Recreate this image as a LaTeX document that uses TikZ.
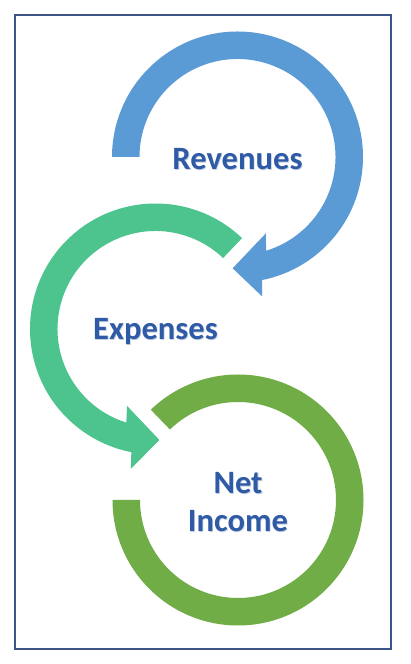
\documentclass[tikz,border=0pt]{standalone}
\usepackage{fontspec}
\setmainfont{Carlito}
\usetikzlibrary{calc}
\definecolor{frameC}{HTML}{3B5587}
\definecolor{blueC}{HTML}{5B9BD5}
\definecolor{tealC}{HTML}{4DC48E}
\definecolor{greenC}{HTML}{70AD47}
\definecolor{textC}{HTML}{2F5BA6}
\definecolor{shadowC}{HTML}{9FB3CF}
\tikzset{
  lbl/.style={font=\fontsize{32.6}{37.4}\selectfont\bfseries, text=textC, align=center, inner sep=0pt},
  lblshadow/.style={lbl, text=shadowC, opacity=0.6}
}
\begin{document}
\begin{tikzpicture}[x=1pt,y=1pt]
\useasboundingbox (0,0) rectangle (410,664);
\fill[white] (0,0) rectangle (410,664);
% frame
\draw[frameC, line width=2pt] (15,15) rectangle (391,649);
\coordinate (cb) at (237.5,507);
\coordinate (cg) at (155.5,335);
\coordinate (cn) at (238,164);
% Revenues arrow (blue, clockwise)
\begin{scope}[shift={(cb)}]
\fill[blueC] (180:125.5) arc[start angle=180, end angle=-78.7, radius=125.5]
  -- (-80:141.5) -- (-92.5:111.4) -- (-69.7:81.5) -- (-73:98)
  arc[start angle=-73, end angle=180, radius=98] -- cycle;
\end{scope}
% Expenses arrow (teal, counter-clockwise)
\begin{scope}[shift={(cg)}]
\fill[tealC] (46.4:125.5) arc[start angle=46.4, end angle=258.9, radius=125.5]
  -- (260:142) -- (272:111) -- (249.7:82) -- (252.7:98)
  arc[start angle=252.7, end angle=46.4, radius=98] -- cycle;
\end{scope}
% Net income ring (green)
\begin{scope}[shift={(cn)}]
\fill[greenC] (180:125.5) arc[start angle=180, end angle=494, radius=125.5]
  -- (494:98) arc[start angle=494, end angle=180, radius=98] -- cycle;
\end{scope}
% labels
\node[lblshadow] at ($(cb)+(0.8,-3.2)$) {Revenues};
\node[lbl] (rev) at ($(cb)+(0,-2)$) {Revenues};
\node[lblshadow] at ($(cg)+(0.8,-3.2)$) {Expenses};
\node[lbl] (exp) at ($(cg)+(0,-2)$) {Expenses};
\node[lblshadow] at ($(cn)+(0.8,-3.2)$) {Net\\Income};
\node[lbl] (net) at ($(cn)+(0,-2)$) {Net\\Income};
\end{tikzpicture}
\end{document}
